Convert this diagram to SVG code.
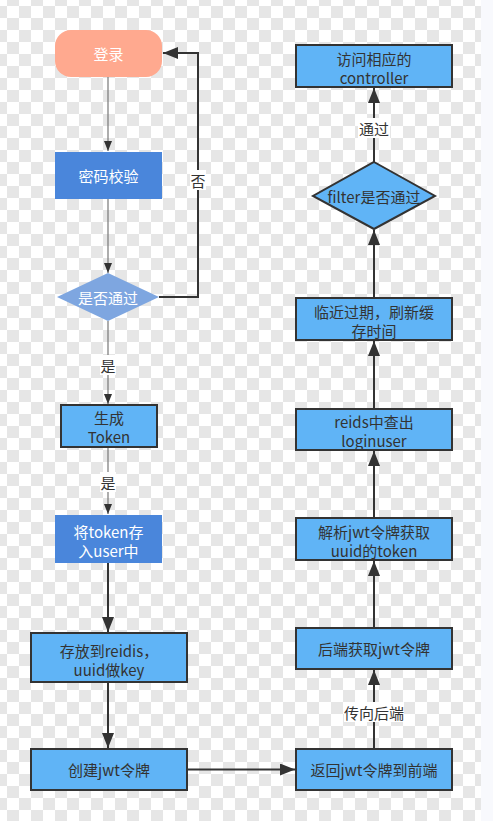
<svg xmlns="http://www.w3.org/2000/svg" width="493" height="821" viewBox="0 0 493 821">
<defs>
<pattern id="checker" x="7" y="-6" width="24" height="24" patternUnits="userSpaceOnUse">
<rect width="24" height="24" fill="#ffffff"/>
<rect width="12" height="12" fill="#e6e6e6"/>
<rect x="12" y="12" width="12" height="12" fill="#e6e6e6"/>
</pattern>
<marker id="big" markerUnits="userSpaceOnUse" markerWidth="16" markerHeight="12" refX="15" refY="6" orient="auto">
<path d="M0,0 L15,6 L0,12 z" fill="#333333"/>
</marker>
<marker id="small" markerUnits="userSpaceOnUse" markerWidth="11" markerHeight="8" refX="10" refY="4" orient="auto">
<path d="M0,0 L10,4 L0,8 z" fill="#333333"/>
</marker>
<style>
text{font-family:"Noto Sans CJK SC","Noto Sans",sans-serif;font-size:15px;text-anchor:middle;dominant-baseline:central}
.w{fill:#ffffff}
.d{fill:#333333}
.box{fill:#60b4f6;stroke:#333333;stroke-width:2}
.dark{fill:#4a86db}
.thin{stroke:#777777;stroke-width:1.2;fill:none}
.thick{stroke:#333333;stroke-width:2;fill:none}
.lbl{fill:#ffffff}
</style>
</defs>
<rect width="493" height="821" fill="url(#checker)"/>
<rect x="481" y="0" width="12" height="821" fill="#f8f9fd"/>

<g id="connectors">
<line class="thin" x1="108" y1="77" x2="108" y2="151" marker-end="url(#small)"/>
<line class="thin" x1="108" y1="199" x2="108" y2="273" marker-end="url(#small)"/>
<polyline class="thick" points="159,297 198,297 198,53 163,53" marker-end="url(#big)"/>
<rect class="lbl" x="190" y="170" width="16" height="20"/>
<text class="d" x="198" y="180">否</text>
<line class="thin" x1="108" y1="321" x2="108" y2="404" marker-end="url(#small)"/>
<rect class="lbl" x="100" y="355" width="16" height="20"/>
<text class="d" x="108" y="365">是</text>
<line class="thin" x1="108" y1="447" x2="108" y2="514" marker-end="url(#small)"/>
<rect class="lbl" x="100" y="472" width="16" height="20"/>
<text class="d" x="108" y="482">是</text>
<line class="thick" x1="108" y1="563" x2="108" y2="632" marker-end="url(#big)"/>
<line class="thick" x1="108" y1="682" x2="108" y2="748" marker-end="url(#big)"/>
<line class="thick" x1="187" y1="769.5" x2="295" y2="769.5" marker-end="url(#big)"/>
<line class="thick" x1="374" y1="749" x2="374" y2="670" marker-end="url(#big)"/>
<rect class="lbl" x="344" y="702" width="60" height="20"/>
<text class="d" x="374" y="712">传向后端</text>
<line class="thick" x1="374" y1="628" x2="374" y2="561" marker-end="url(#big)"/>
<line class="thick" x1="374" y1="518" x2="374" y2="451" marker-end="url(#big)"/>
<line class="thick" x1="374" y1="409" x2="374" y2="341" marker-end="url(#big)"/>
<line class="thick" x1="374" y1="298" x2="374" y2="230" marker-end="url(#big)"/>
<line class="thick" x1="374" y1="162" x2="374" y2="88" marker-end="url(#big)"/>
<rect class="lbl" x="358" y="118" width="32" height="20"/>
<text class="d" x="374" y="128">通过</text>
</g>

<g id="login">
<rect x="55" y="30" width="107" height="47" rx="16" fill="#ffa98f"/>
<text class="w" x="108.5" y="53.5">登录</text>
</g>
<g id="verify">
<rect class="dark" x="55" y="152" width="107" height="47"/>
<text class="w" x="108.5" y="175.5">密码校验</text>
</g>
<g id="pass">
<polygon points="108,273 159,297 108,321 57,297" fill="#7ea6e0"/>
<text class="w" x="108" y="297">是否通过</text>
</g>
<g id="token">
<rect class="box" x="61" y="405" width="96" height="42"/>
<text class="d" x="109" y="417">生成</text>
<text class="d" x="109" y="436">Token</text>
</g>
<g id="storeuser">
<rect class="dark" x="55" y="515" width="107" height="48"/>
<text class="w" x="108.5" y="531">将token存</text>
<text class="w" x="108.5" y="550">入user中</text>
</g>
<g id="redis">
<rect class="box" x="31" y="633" width="156" height="49"/>
<text class="d" x="109" y="650">存放到reidis，</text>
<text class="d" x="109" y="669">uuid做key</text>
</g>
<g id="create">
<rect class="box" x="31" y="749" width="156" height="41"/>
<text class="d" x="109" y="769.5">创建jwt令牌</text>
</g>
<g id="return">
<rect class="box" x="296" y="749" width="156" height="41"/>
<text class="d" x="374" y="769.5">返回jwt令牌到前端</text>
</g>
<g id="backend">
<rect class="box" x="296" y="628" width="156" height="41"/>
<text class="d" x="374" y="648.5">后端获取jwt令牌</text>
</g>
<g id="parse">
<rect class="box" x="296" y="518" width="156" height="42"/>
<text class="d" x="374" y="531">解析jwt令牌获取</text>
<text class="d" x="374" y="550">uuid的token</text>
</g>
<g id="lookup">
<rect class="box" x="296" y="409" width="156" height="41"/>
<text class="d" x="374" y="421">reids中查出</text>
<text class="d" x="374" y="440">loginuser</text>
</g>
<g id="refresh">
<rect class="box" x="296" y="298" width="156" height="42"/>
<text class="d" x="374" y="311">临近过期，刷新缓</text>
<text class="d" x="374" y="330">存时间</text>
</g>
<g id="filter">
<polygon class="box" points="374,162 435,196 374,229 313,196"/>
<text class="d" x="374" y="196">filter是否通过</text>
</g>
<g id="controller">
<rect class="box" x="296" y="45" width="156" height="42"/>
<text class="d" x="374" y="58">访问相应的</text>
<text class="d" x="374" y="77">controller</text>
</g>
</svg>
